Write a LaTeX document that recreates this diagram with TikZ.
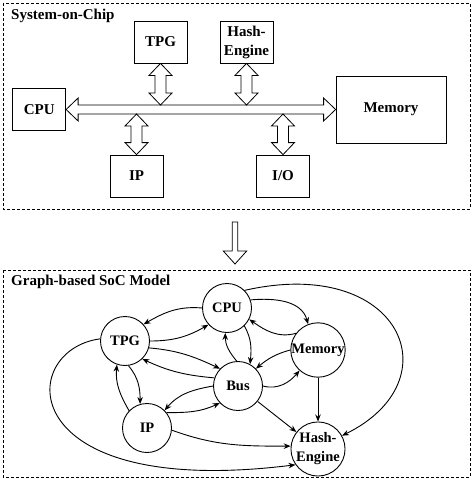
\documentclass[tikz,border=0pt]{standalone}
\usepackage{fontspec}
\setmainfont{Liberation Serif}
\usetikzlibrary{calc,arrows.meta}

\tikzset{
  box/.style={draw,line width=0.8pt,minimum width=53pt,minimum height=42pt,inner sep=0pt,align=center,font=\bfseries\fontsize{15}{19}\selectfont},
  ball/.style={draw,circle,line width=0.9pt,minimum size=49pt,inner sep=0pt,align=center,font=\bfseries\fontsize{14.5}{19}\selectfont},
  frame/.style={draw,line width=0.9pt,dash pattern=on 3pt off 2pt},
  fat/.style={draw,line width=0.8pt,fill=white,line join=miter},
  link/.style={line width=0.9pt,-{Stealth[length=7pt,width=5.5pt]}},
  title/.style={anchor=west,inner sep=0pt,font=\bfseries\fontsize{15}{17}\selectfont}
}

% hollow two-headed arrow between two points
\newcommand\dblarrow[3][5.5pt]{%
  \path ($(#2)!12pt!(#3)$) coordinate (h1) ($(#3)!12pt!(#2)$) coordinate (h2);
  \draw[fat] (#2) -- ($(h1)!11.5pt!90:(#3)$) -- ($(h1)!#1!90:(#3)$)
    -- ($(h2)!#1!-90:(#2)$) -- ($(h2)!11.5pt!-90:(#2)$) -- (#3)
    -- ($(h2)!11.5pt!90:(#2)$) -- ($(h2)!#1!90:(#2)$)
    -- ($(h1)!#1!-90:(#3)$) -- ($(h1)!11.5pt!-90:(#3)$) -- cycle;}

\begin{document}
\begin{tikzpicture}[x=1pt,y=1pt]
\useasboundingbox (0,0) rectangle (474,-479);

% System-on-Chip
\draw[frame] (3,-3) rectangle (470,-209);
\node[title] (soc) at (11,-16) {System-on-Chip};
\node[box] (tpg) at (160.5,-42) {TPG};
\node[box] (hash) at (246.5,-42) {Hash-\\Engine};
\node[box] (cpu) at (39.2,-109.5) {CPU};
\node[box,minimum width=110pt,minimum height=67pt] (mem) at (391,-109.5) {Memory};
\node[box] (ip) at (136.5,-176) {IP};
\node[box] (io) at (283,-176) {I/O};

\dblarrow[4.5pt]{cpu.east}{mem.west}
\coordinate (tb) at ($(tpg.south |- cpu.east)+(0,4.5)$);
\coordinate (hb) at ($(hash.south |- cpu.east)+(0,4.5)$);
\coordinate (ib) at ($(ip.north |- cpu.east)+(0,-4.5)$);
\coordinate (ob) at ($(io.north |- cpu.east)+(0,-4.5)$);
\dblarrow{tpg.south}{tb}
\dblarrow{hash.south}{hb}
\dblarrow{ip.north}{ib}
\dblarrow{io.north}{ob}

% transition
\coordinate (d1) at (235,-222);
\coordinate (d2) at (235,-264);
\draw[fat] (d1) ++(-2.7,0) -- ++(5.4,0) -- ++(0,-29) -- ++(9,0) -- (d2)
  -- ++(-11.7,13) -- ++(9,0) -- cycle;

% Graph-based SoC Model
\draw[frame] (3,-270) rectangle (470,-477);
\node[title] (gsoc) at (11,-282) {Graph-based SoC Model};
\node[ball] (gcpu) at (227,-308) {CPU};
\node[ball] (gtpg) at (125,-341) {TPG};
\node[ball] (gmem) at (318,-350) {Memory};
\node[ball] (gbus) at (238,-386) {Bus};
\node[ball] (gip) at (147,-428) {IP};
\node[ball] (ghash) at (318,-449) {Hash-\\Engine};

\draw[link] (gcpu.180) to[out=175,in=30] (gtpg.42);
\draw[link] (gtpg.0) to[out=0,in=210] (gcpu.222);
\draw[link] (gcpu.19) to[out=5,in=105] (gmem.111);
\draw[link] (gmem.143) to[out=195,in=-35] (gcpu.-27);
\draw[link] (gcpu.-46) to[out=-60,in=85] (gbus.61);
\draw[link] (gbus.93) to[out=130,in=-90] (gcpu.-94);
\draw[link] (gcpu.45) .. controls (400,-255) and (455,-380) .. (ghash.29);
\draw[link] (gtpg.-16) to[out=-5,in=155] (gbus.136);
\draw[link] (gbus.161) to[out=175,in=-25] (gtpg.-46);
\draw[link] (gmem.180) to[out=195,in=40] (gbus.44);
\draw[link] (gbus.0) to[out=-15,in=230] (gmem.228);
\draw[link] (gmem) -- (ghash);
\draw[link] (gbus) -- (ghash);
\draw[link] (gtpg.-82) to[out=-50,in=90] (gip.106);
\draw[link] (gip.136) to[out=120,in=-95] (gtpg.251);
\draw[link] (gbus.180) to[out=190,in=50] (gip.45);
\draw[link] (gip.38) to[out=0,in=205] (gbus.223);
\draw[link] (gip.-5) to[out=-20,in=180] (ghash.174);
\draw[link] (gtpg.175) .. controls (16,-350) and (12,-500) .. (ghash.215);
\end{tikzpicture}
\end{document}
